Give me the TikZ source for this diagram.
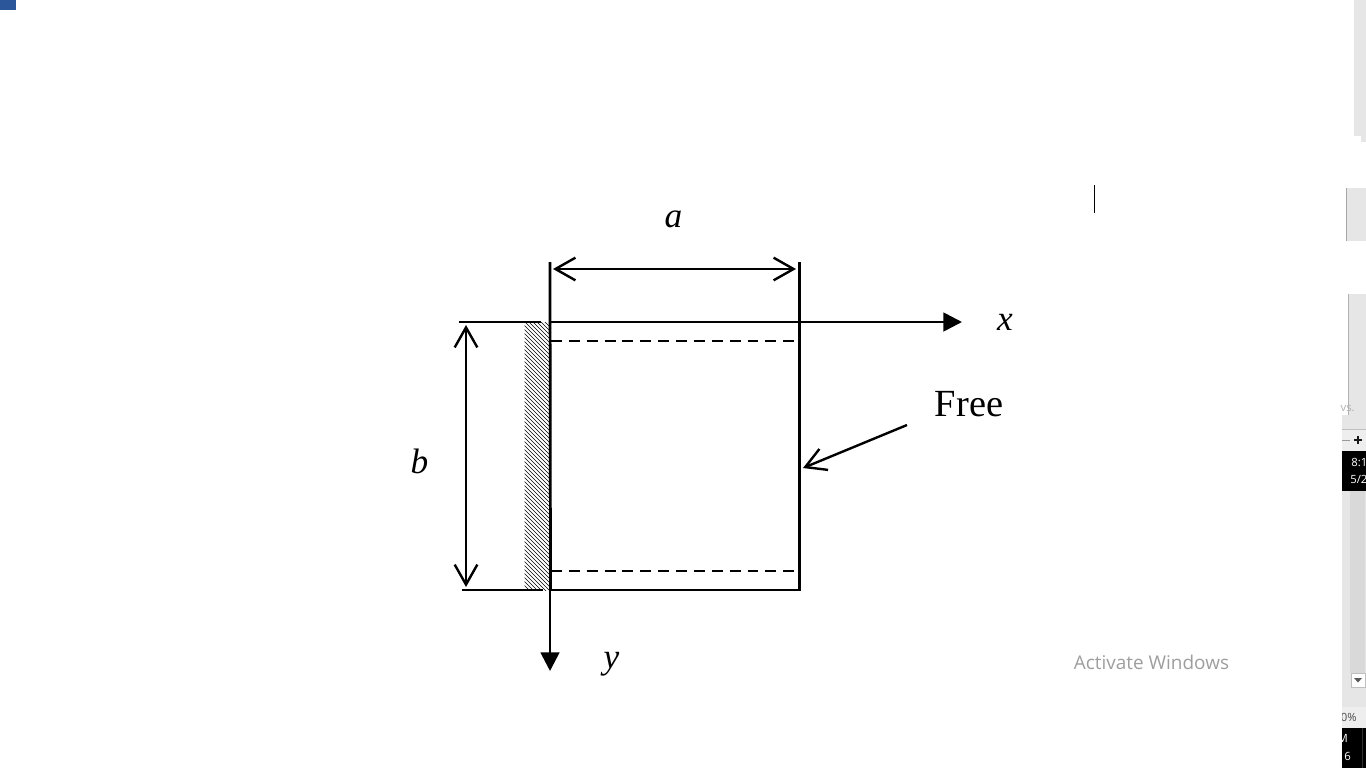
\documentclass[tikz,border=0pt]{standalone}
\usepackage{fontspec}
\setmainfont{Liberation Serif}
\newfontfamily\uifont{Open Sans}
\usetikzlibrary{arrows.meta}
\definecolor{uigray}{HTML}{E6E6E6}
\definecolor{uidark}{HTML}{D9D9D9}
\definecolor{uilight}{HTML}{EEEEEE}
\definecolor{uiblue}{HTML}{2B579A}
\tikzset{
  ink/.style={line width=2.05pt,black},
  thin ink/.style={line width=1.8pt,black},
  openhead/.style={-{Straight Barb[length=15pt,width=17pt,line width=1.8pt]}},
  bothopen/.style={{Straight Barb[length=15pt,width=17pt,line width=1.8pt]}-{Straight Barb[length=15pt,width=17pt,line width=1.8pt]}},
  solidhead/.style={-{Triangle[length=14pt,width=14pt]}},
  mathlabel/.style={font=\fontsize{26.5}{28}\selectfont\itshape,inner sep=0pt,text=black},
  uitext/.style={font=\uifont\fontsize{8.5}{9}\selectfont,inner sep=0pt}
}
\begin{document}
\begin{tikzpicture}[x=0.75pt,y=-0.75pt]
\useasboundingbox (0,0) rectangle (1366,768);
\fill[white] (0,0) rectangle (1366,768);
% window chrome
\fill[uiblue] (0,0) rectangle (16,10);
\fill[uigray] (1354,0) rectangle (1366,136);
\fill[uigray] (1361,136) rectangle (1366,142);
\fill[uigray] (1346,188) rectangle (1366,241);
\draw[gray!70,line width=0.6pt] (1346,188) -- (1346,241);
\fill[uigray] (1348,294) rectangle (1366,430);
\fill[uigray] (1342,415) rectangle (1348,430);
\draw[gray!60,line width=0.6pt] (1348,294) -- (1348,415);
\fill[uilight] (1342,430) rectangle (1366,451);
\draw[gray!50,line width=0.5pt] (1342,429.5) -- (1366,429.5);
\draw[gray!80,line width=0.7pt] (1342,440) -- (1350,440);
\draw[gray!20!black,line width=0.9pt] (1354,440) -- (1362,440) (1358,436) -- (1358,444);
\fill[black] (1342,451) rectangle (1366,491);
\node[uitext,text=white,anchor=west] (clocka) at (1351,462) {8:1};
\node[uitext,text=white,anchor=west] (clockb) at (1350,479) {5/2};
\node[uitext,text=gray!60,anchor=east] (vstext) at (1355,408) {vs.};
\fill[uigray] (1342,491) rectangle (1366,707);
\fill[uidark] (1350,491) rectangle (1365,673);
\fill[white] (1351,673) rectangle (1365,687);
\draw[gray!50,line width=0.5pt] (1351,673) rectangle (1365,687);
\fill[gray!70!black] (1354,678) -- (1362,678) -- (1358,682.5) -- cycle;
\fill[uilight] (1342,707) rectangle (1366,728);
\begin{scope}
\clip (1342,700) rectangle (1366,768);
\node[uitext,text=black!70,anchor=east] (zoomtext) at (1357,717) {40\%};
\fill[black] (1342,728) rectangle (1366,768);
\draw[gray!40!black,line width=0.4pt] (1362,728) -- (1362,768);
\node[uitext,text=white,anchor=east] (clockc) at (1348,738) {M};
\node[uitext,text=white,anchor=east] (clockd) at (1351,756) {6};
\end{scope}
\node[font=\uifont\fontsize{14.2}{16}\selectfont,text=black!38,inner sep=0pt] (activate) at (1151.5,662) {Activate Windows};
\draw[black,line width=0.75pt] (1094.5,185) -- (1094.5,213);
% hatched clamp
\begin{scope}
\clip (524.5,322) rectangle (551,590);
\foreach \k in {0,4,...,400}{
  \draw[black,line width=0.5pt] (490,{\k+215}) -- (570,{\k+295});
}
\end{scope}
% named anchors
\coordinate (tl) at (550,322);
\coordinate (tr) at (800,322);
\coordinate (bl) at (550,590);
\coordinate (br) at (799.5,590);
\coordinate (xend) at (962,322);
\coordinate (yend) at (550,671);
\coordinate (wtop) at (550,262);
\coordinate (etop) at (799.5,262);
\coordinate (wbot) at (550.5,590);
\coordinate (dimaL) at (553,269);
\coordinate (dimaR) at (796,269);
\coordinate (dimbT) at (466,325);
\coordinate (dimbB) at (466,587);
\coordinate (extT1) at (459,322);
\coordinate (extT2) at (541,322);
\coordinate (extB1) at (462,590);
\coordinate (extB2) at (543,590);
\coordinate (dashTa) at (551,341);
\coordinate (dashTb) at (796,341);
\coordinate (dashBa) at (551,571);
\coordinate (dashBb) at (796,571);
\coordinate (freeS) at (907,425);
\coordinate (freeE) at (803,468);
% plate and axes
\draw[ink] (wtop) -- (wbot);
\draw[ink] (etop) -- (br) -- (bl);
\draw[ink,solidhead] (tl) -- (xend);
\draw[ink,solidhead] (bl) -- (yend);
\draw[ink] (extT1) -- (extT2);
\draw[ink] (extB1) -- (extB2);
\draw[ink,dash pattern=on 8.2pt off 5.2pt] (dashTa) -- (dashTb);
\draw[ink,dash pattern=on 8.2pt off 5.2pt] (dashBa) -- (dashBb);
% dimensions
\draw[thin ink,bothopen] (dimaL) -- (dimaR);
\draw[thin ink,bothopen] (dimbT) -- (dimbB);
\draw[thin ink,openhead] (freeS) -- (freeE);
% labels
\node[mathlabel] (la) at (673.5,219) {a};
\node[mathlabel] (lb) at (419.5,461) {b};
\node[mathlabel] (lx) at (1005,322) {x};
\node[mathlabel] (ly) at (611.5,664) {y};
\node[font=\fontsize{28.8}{32}\selectfont,inner sep=0pt,text=black] (free) at (969,404) {Free};
\end{tikzpicture}
\end{document}
